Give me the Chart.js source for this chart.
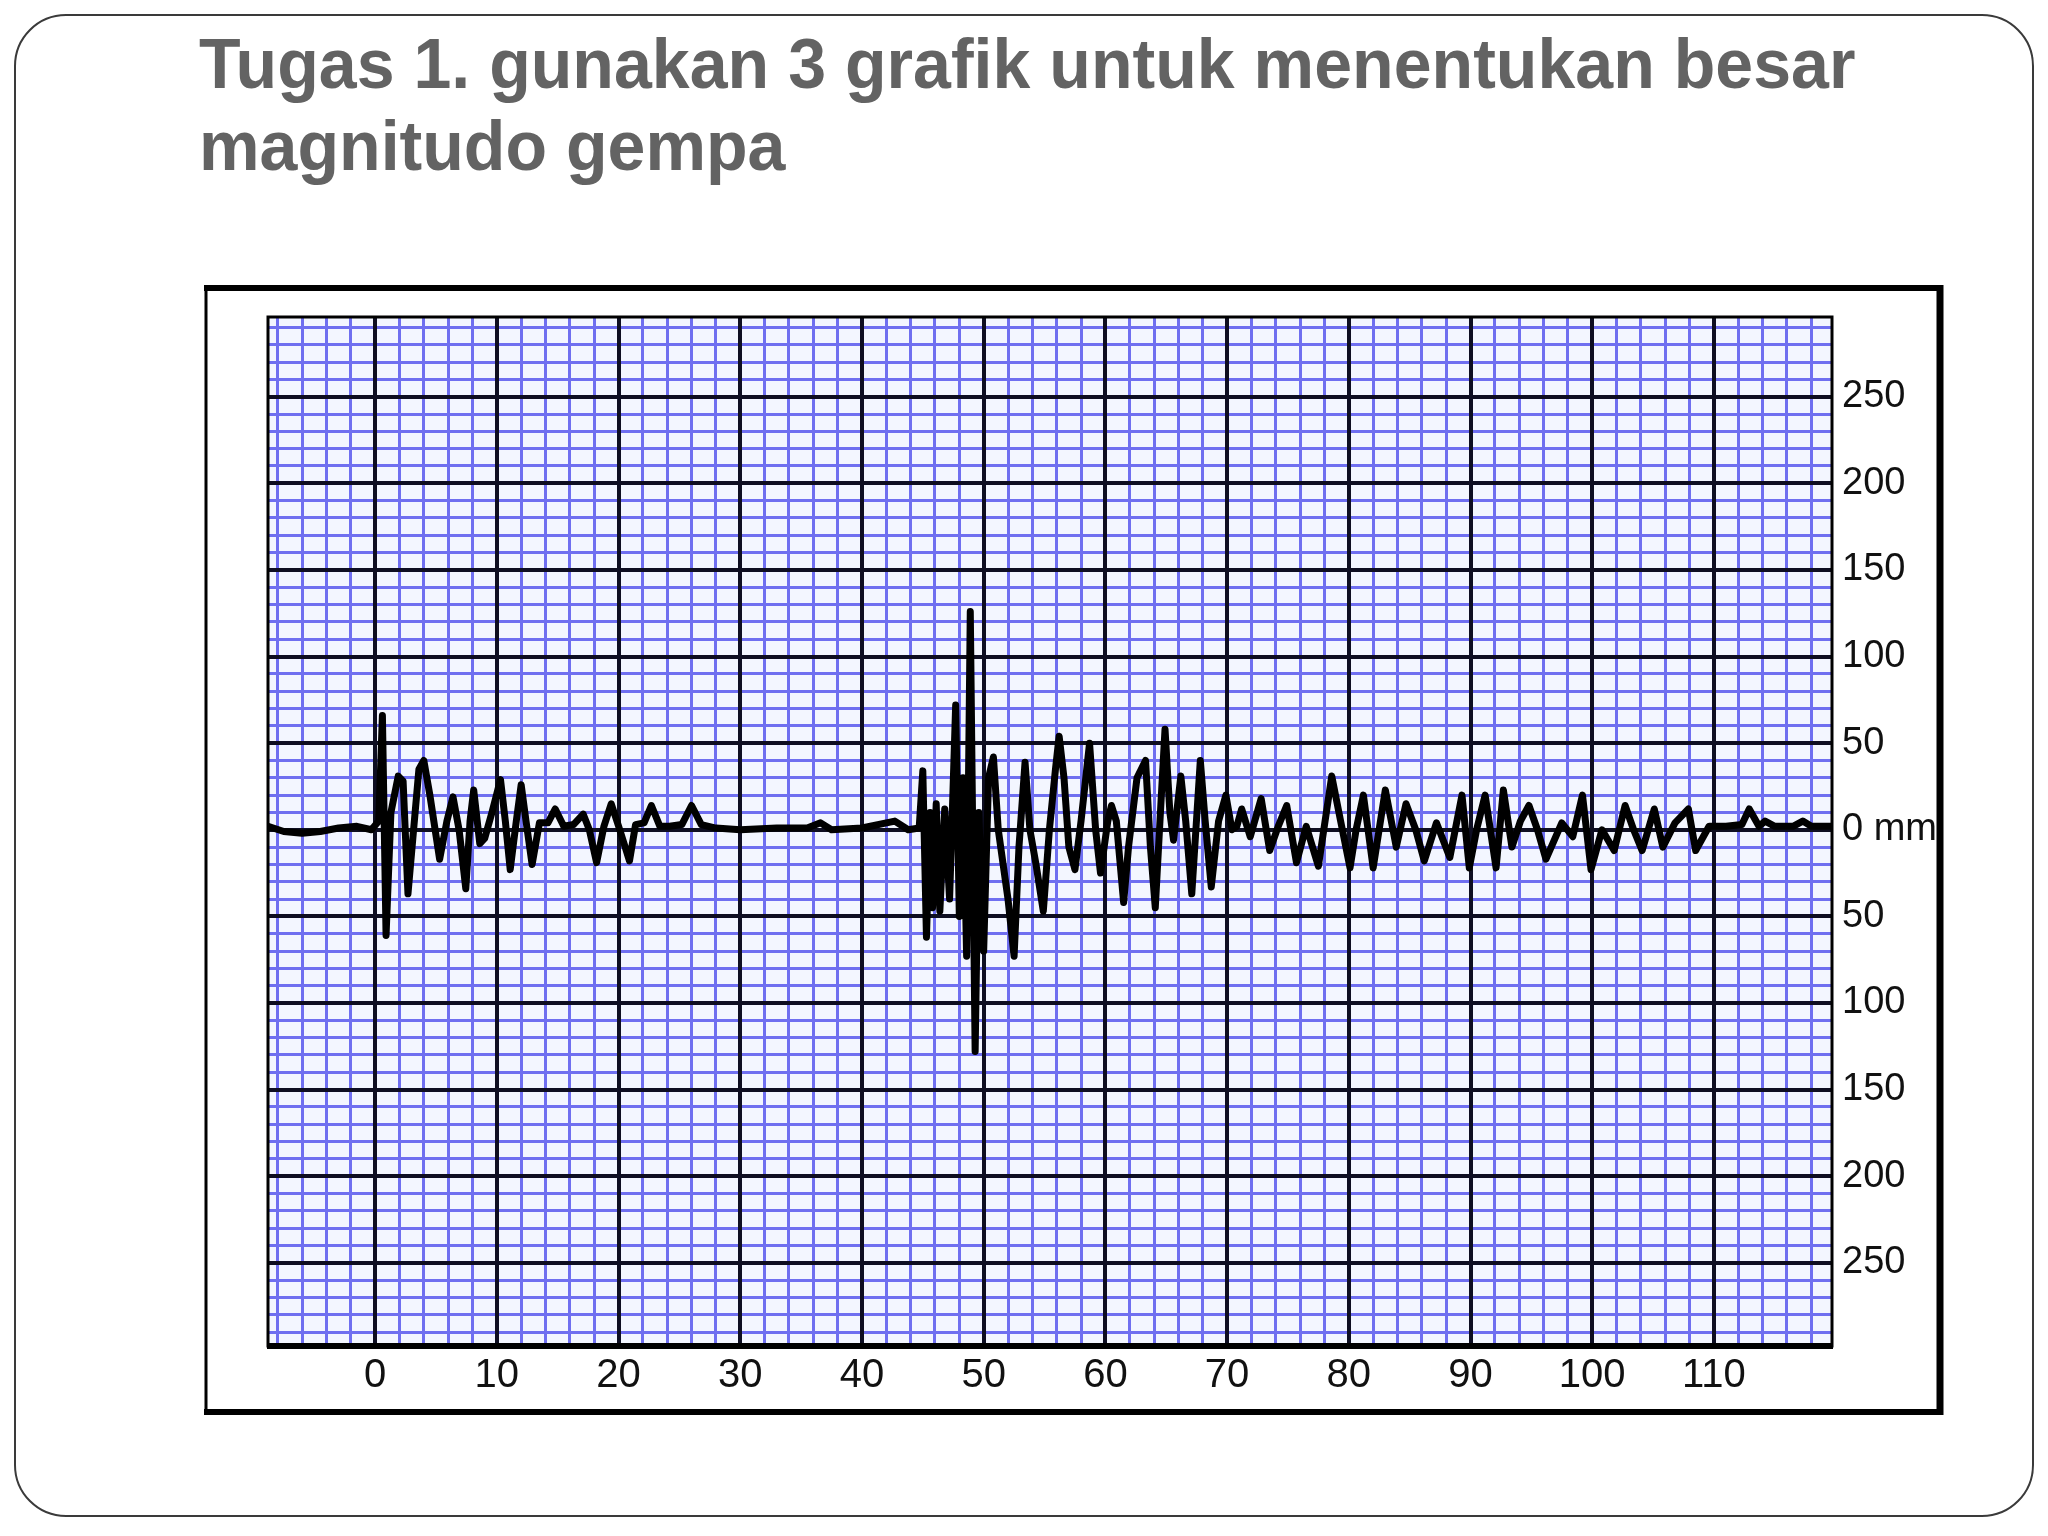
<!DOCTYPE html>
<html>
<head>
<meta charset="utf-8">
<script src="https://cdn.jsdelivr.net/npm/chart.js@4.4.1/dist/chart.umd.min.js"></script>
<style>
  html, body { margin: 0; padding: 0; background: #fff; }
  #slide { position: relative; width: 2048px; height: 1536px; overflow: hidden; background: #fff; }
  #border {
    position: absolute; left: 14px; top: 14px; width: 2016px; height: 1499px;
    border: 2px solid #3a3a3a; border-radius: 52px; box-sizing: content-box;
  }
  .title {
    position: absolute; left: 199px; white-space: nowrap;
    font-family: "Liberation Sans", Arial, sans-serif; font-weight: bold;
    font-size: 70px; line-height: 82px; color: #636363;
    transform-origin: 0 0;
  }
  #chart { position: absolute; left: 0; top: 0; }
</style>
</head>
<body>
<div id="slide">
  <div id="border"></div>
  <div class="title" id="t1" style="top:23px">Tugas 1. gunakan 3 grafik untuk menentukan besar</div>
  <div class="title" id="t2" style="top:105px">magnitudo gempa</div>
  <canvas id="chart" width="2048" height="1536"></canvas>
</div>
<script>
// seismogram trace, [time s, amplitude mm]
const preEvent = [
  [-8.8, 2], [-7.5, -1], [-6, -2], [-4.5, -1], [-3, 1], [-1.5, 2], [-0.3, 0]
]
const pPhase = [
  [0.3, 5], [0.6, 66], [0.9, -61], [1.3, 10], [1.9, 31], [2.3, 28], [2.7, -37],
  [3.1, -5], [3.6, 35], [4.0, 40], [4.5, 20], [5.3, -17], [5.9, 5], [6.4, 19],
  [6.9, 0], [7.45, -34], [7.8, 5], [8.1, 23], [8.6, -8], [9.0, -5], [9.6, 10],
  [10.3, 29], [10.7, 5], [11.1, -23], [11.6, 5], [12.0, 26], [12.4, 5], [12.9, -20],
  [13.5, 4], [14.2, 4], [14.8, 12], [15.5, 2], [16.3, 3], [17.1, 9], [17.6, 0],
  [18.2, -19], [18.8, 2], [19.4, 15], [20.1, 0], [20.9, -18], [21.4, 3], [22.1, 4],
  [22.7, 14], [23.4, 2], [24.2, 2], [25.2, 3], [26.0, 14], [26.8, 3]
]
const quietGap = [
  [28, 1], [30, 0], [33, 1], [35.5, 1], [36.6, 4], [37.5, 0], [40, 1],
  [42.7, 5], [43.8, 0], [44.7, 1]
]
const sPhase = [
  [45.0, 34], [45.3, -62], [45.6, 10], [45.8, -45], [46.1, 15], [46.4, -47],
  [46.8, 12], [47.2, -40], [47.7, 72], [48.0, -50], [48.3, 30], [48.6, -73],
  [48.9, 126], [49.3, -128], [49.6, 10], [50.0, -70], [50.4, 30], [50.8, 42],
  [51.2, 0], [51.6, -20], [52.0, -40], [52.5, -73], [52.9, -10], [53.4, 39],
  [53.8, 0], [54.3, -20], [54.9, -47], [55.4, 0], [55.9, 35], [56.2, 54],
  [56.6, 30], [57.0, -10], [57.5, -23], [58.0, 5], [58.7, 50], [59.2, 0],
  [59.6, -25], [60.2, 5], [60.5, 14], [60.9, 5], [61.5, -42], [61.9, -10],
  [62.6, 30], [63.3, 40], [63.7, -10], [64.1, -45], [64.6, 20], [64.9, 58],
  [65.3, 10], [65.6, -6], [66.2, 31], [66.6, 5], [67.1, -37], [67.8, 40],
  [68.2, 5], [68.7, -33], [69.3, 5], [69.9, 20]
]
const coda = [
  [70.4, 0], [70.8, 2], [71.2, 12], [71.9, -4], [72.8, 18], [73.5, -12], [74.2, 2],
  [74.9, 14], [75.7, -19], [76.5, 2], [77.5, -21], [78.6, 31], [79.3, 6], [80.1, -22],
  [80.6, 0], [81.2, 20], [82.0, -22], [83.0, 23], [83.9, -10], [84.7, 15], [85.5, 0],
  [86.2, -18], [87.2, 4], [88.3, -16], [89.3, 20], [89.9, -22], [90.5, 0], [91.2, 20],
  [92.1, -22], [92.7, 23], [93.4, -10], [94.1, 5], [94.8, 14], [95.5, 0], [96.2, -17],
  [97.5, 4], [98.4, -4], [99.2, 20], [99.9, -23], [100.8, 0], [101.8, -12], [102.7, 14],
  [103.4, 0], [104.1, -12], [105.1, 12], [105.8, -10], [106.8, 4], [107.9, 12],
  [108.5, -12], [109.6, 2]
]
const tail = [
  [111, 2], [112.3, 3], [112.9, 12], [113.7, 2], [114.2, 5], [115, 2], [116.5, 2],
  [117.3, 5], [118, 2], [119.7, 2]
]

const xMajor = [0, 10, 20, 30, 40, 50, 60, 70, 80, 90, 100, 110]
const xTickLabels = ['0', '10', '20', '30', '40', '50', '60', '70', '80', '90', '100', '110']
const yMajor = [250, 200, 150, 100, 50, 0, -50, -100, -150, -200, -250]
const yTickLabels = ['250', '200', '150', '100', '50', '0 mm', '50', '100', '150', '200', '250']

// fit the title to the slide width
const t1 = document.getElementById('t1'), t2 = document.getElementById('t2')
const sx = 1656 / t1.offsetWidth
t1.style.transform = t2.style.transform = 'scaleX(' + sx + ')'

// grid every 2 s and every 10 mm
const xGrid = [], yGrid = []
for (let v = -8; v <= 118; v += 2) xGrid.push(v)
for (let v = -290; v <= 290; v += 10) yGrid.push(v)

const trace = [...preEvent, ...pPhase, ...quietGap, ...sPhase, ...coda, ...tail]
  .map(p => ({ x: p[0], y: p[1] }))

const isMajorX = v => v % 10 === 0
const isMajorY = v => v % 50 === 0
const MINOR = '#6f6ff0', MAJOR = '#0e0e22'

const paperPlugin = {
  id: 'paper',
  beforeDraw(chart) {
    const { ctx, chartArea: a } = chart
    ctx.save()
    ctx.fillStyle = '#f3f6ff'
    ctx.fillRect(a.left, a.top, a.right - a.left, a.bottom - a.top)
    ctx.restore()
  },
  beforeDatasetsDraw(chart) {
    // major lines on top of the blue minor ones
    const { ctx, chartArea: a, scales } = chart
    ctx.save()
    ctx.strokeStyle = MAJOR
    ctx.lineWidth = 4
    xMajor.forEach(v => {
      const px = Math.round(scales.x.getPixelForValue(v))
      ctx.beginPath(); ctx.moveTo(px, a.top); ctx.lineTo(px, a.bottom); ctx.stroke()
    })
    yMajor.forEach(v => {
      const py = Math.round(scales.y.getPixelForValue(v))
      ctx.beginPath(); ctx.moveTo(a.left, py); ctx.lineTo(a.right, py); ctx.stroke()
    })
    ctx.restore()
  },
  afterDraw(chart) {
    const { ctx, chartArea: a } = chart
    ctx.save()
    ctx.strokeStyle = '#000'
    // plot frame
    ctx.lineWidth = 3
    ctx.strokeRect(a.left, a.top, a.right - a.left, a.bottom - a.top)
    ctx.lineWidth = 6
    ctx.beginPath(); ctx.moveTo(a.left - 1, a.bottom); ctx.lineTo(a.right + 1, a.bottom); ctx.stroke()
    // outer picture frame
    ctx.lineWidth = 3
    ctx.beginPath(); ctx.moveTo(206, 287); ctx.lineTo(206, 1413); ctx.stroke()
    ctx.lineWidth = 6
    ctx.beginPath(); ctx.moveTo(204, 288); ctx.lineTo(1943, 288); ctx.stroke()
    ctx.beginPath(); ctx.moveTo(204, 1412); ctx.lineTo(1943, 1412); ctx.stroke()
    ctx.lineWidth = 7
    ctx.beginPath(); ctx.moveTo(1940, 285); ctx.lineTo(1940, 1415); ctx.stroke()
    ctx.restore()
  }
}

new Chart(document.getElementById('chart'), {
  type: 'line',
  data: {
    datasets: [{
      data: trace,
      borderColor: '#000',
      borderWidth: 7,
      borderJoinStyle: 'round',
      borderCapStyle: 'round',
      tension: 0,
      pointRadius: 0,
      fill: false
    }]
  },
  options: {
    responsive: false,
    animation: false,
    devicePixelRatio: 1,
    layout: { padding: { left: 268, top: 317, right: 86, bottom: 130 } },
    plugins: { legend: { display: false }, tooltip: { enabled: false }, title: { display: false } },
    scales: {
      x: {
        type: 'linear',
        min: -8.8,
        max: 119.7,
        afterBuildTicks: axis => { axis.ticks = xGrid.map(v => ({ value: v })) },
        afterFit: scale => { scale.height = 60 },
        border: { display: false },
        grid: {
          drawTicks: false,
          color: c => isMajorX(c.tick.value) ? MAJOR : MINOR,
          lineWidth: 3
        },
        ticks: {
          autoSkip: false,
          maxRotation: 0,
          padding: 6,
          color: '#111',
          font: { family: 'Liberation Sans, Arial, sans-serif', size: 40 },
          callback: v => {
            const i = xMajor.indexOf(v)
            return i >= 0 ? xTickLabels[i] : ''
          }
        }
      },
      y: {
        type: 'linear',
        position: 'right',
        min: -298,
        max: 296,
        afterBuildTicks: axis => { axis.ticks = yGrid.map(v => ({ value: v })) },
        afterFit: scale => { scale.width = 130 },
        border: { display: false },
        grid: {
          drawTicks: false,
          color: c => isMajorY(c.tick.value) ? MAJOR : MINOR,
          lineWidth: 3
        },
        ticks: {
          autoSkip: false,
          padding: 10,
          color: '#111',
          font: { family: 'Liberation Sans, Arial, sans-serif', size: 38 },
          callback: v => {
            const i = yMajor.indexOf(v)
            return i >= 0 ? yTickLabels[i] : ''
          }
        }
      }
    }
  },
  plugins: [paperPlugin]
})
</script>
</body>
</html>
